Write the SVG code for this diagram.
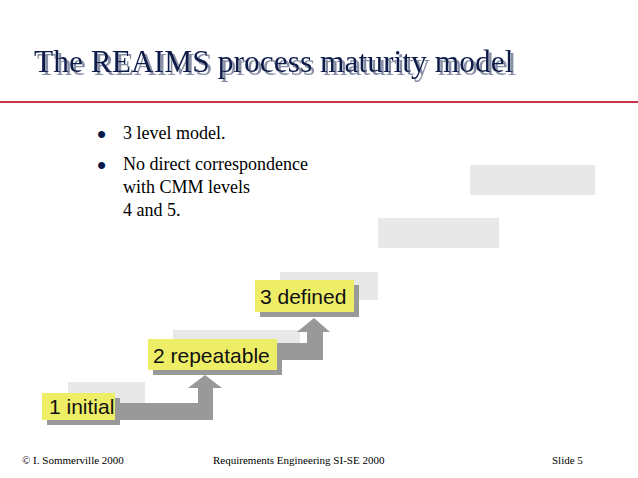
<svg xmlns="http://www.w3.org/2000/svg" width="638" height="478" viewBox="0 0 638 478">
<style>
.t{font-family:"Liberation Serif",serif;fill:#000}
.lab{font-family:"Liberation Sans",sans-serif;font-size:21px;fill:#111}
.y{fill:#eeee66}
.sh{fill:#999}
.bg{fill:#e8e8e8}
.ar{fill:#999}
.b{font-family:"Liberation Sans",sans-serif;font-size:26px;fill:#0a1a4a}
</style>
<defs><filter id="ds" x="-5%" y="-20%" width="110%" height="150%"><feDropShadow dx="3" dy="3" stdDeviation="0.5" flood-color="#8890a8"/></filter></defs>
<rect width="638" height="478" fill="#fff"/>
<text x="34" y="72" font-family="Liberation Serif,serif" font-size="31.5" fill="#0a1a4a" filter="url(#ds)">The REAIMS process maturity model</text>
<rect x="0" y="101" width="638" height="2" fill="#c8324a"/>
<text class="b" x="97" y="143">•</text><text class="b" x="97" y="174">•</text>
<g class="t" font-size="18">
<text x="123" y="139">3 level model.</text>
<text x="123" y="170">No direct correspondence</text>
<text x="123" y="193">with CMM levels</text>
<text x="123" y="216">4 and 5.</text>
</g>
<rect class="bg" x="470" y="165" width="125" height="30"/>
<rect class="bg" x="378" y="218" width="121" height="30"/>
<rect class="bg" x="280" y="272" width="98" height="28"/>
<rect class="bg" x="173" y="330" width="127" height="15"/>
<rect class="bg" x="68" y="382" width="77" height="23"/>
<g id="connectors">
<path class="ar" d="M115 403 H198 V388 H188 L205 375 L222 388 H213 V420 H115 Z"/>
<path class="ar" d="M277 343 H307 V332 H297 L314 318 L330 332 H323 V360 H277 Z"/>
</g>
<g id="n1"><rect class="sh" x="47" y="398" width="73" height="27"/><rect class="y" x="42" y="393" width="73" height="27"/><text class="lab" x="49" y="414">1 initial</text></g>
<g id="n2"><rect class="sh" x="153" y="344" width="129" height="31"/><rect class="y" x="148" y="339" width="129" height="31"/><text class="lab" x="153" y="363">2 repeatable</text></g>
<g id="n3"><rect class="sh" x="260" y="285" width="99" height="32"/><rect class="y" x="255" y="280" width="99" height="32"/><text class="lab" x="260" y="304">3 defined</text></g>
<g class="t" font-size="11">
<text x="22" y="464">© I. Sommerville 2000</text>
<text x="213" y="464">Requirements Engineering SI-SE 2000</text>
<text x="552" y="464">Slide  5</text>
</g>
</svg>
